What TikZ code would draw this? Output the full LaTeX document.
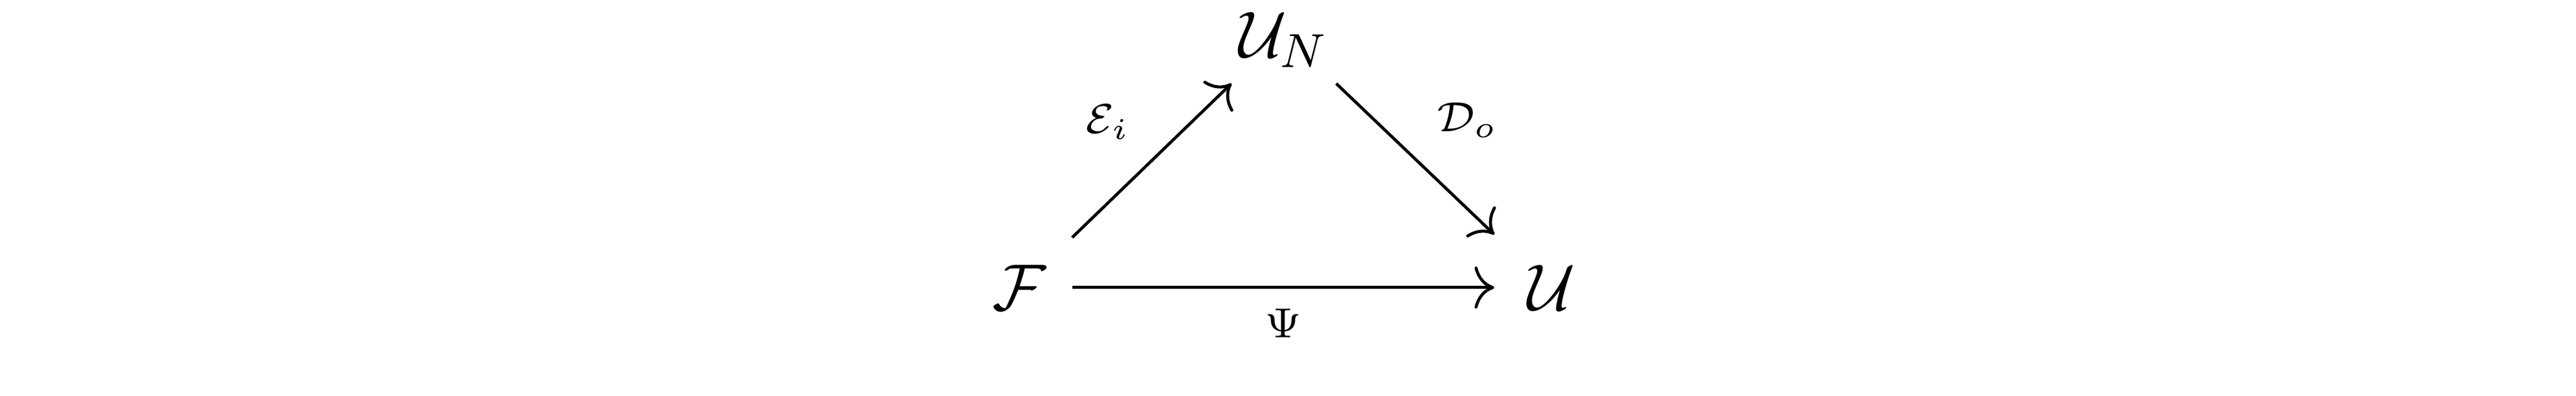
\documentclass[tikz,border=0pt]{standalone}
\usetikzlibrary{arrows.meta}
\usetikzlibrary{calc}

\begin{document}
\begin{tikzpicture}[x=1pt, y=1pt, line width=0.5pt,
	cmto/.style = {-{Computer Modern Rightarrow[length=3.3pt, width=7pt]}},
	obj/.style = {inner sep=0pt, font=\fontsize{11}{13}\selectfont}]
	\useasboundingbox (0,0) rectangle (430.2,66.1);
	\node[obj, minimum width=17.2pt, minimum height=16.2pt] (f) at (170.2,18.1) {$\mathcal{F}$};
	\node[obj, minimum width=18.6pt, minimum height=17.2pt] (u) at (259.1,18.1) {$\mathcal{U}$};
	\node[obj, minimum width=17pt, minimum height=11pt] (un) at (214.4,59.4) {$\mathcal{U}_N$};
	\draw[cmto] (f.east) -- (u.west) node [midway, below] {$\scriptstyle\Psi$};
	\draw[cmto] (f.north east) -- ([yshift=-1.5pt]un.south west) node [midway, above left] {$\scriptstyle\mathcal{E}_i$};
	\draw[cmto] ([yshift=-1.5pt]un.south east) -- (u.north west) node [midway, above right] {$\scriptstyle\mathcal{D}_o$};
\end{tikzpicture}
\end{document}
